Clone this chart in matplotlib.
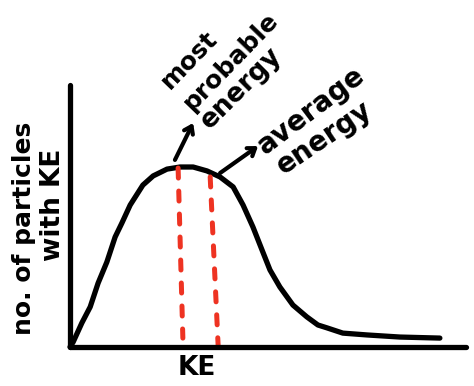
import matplotlib
matplotlib.use("Agg")
import matplotlib.pyplot as plt

# Curve (kinetic energy distribution)
ke = [0.0, 0.08, 0.30, 0.51, 0.71, 0.93, 1.14, 1.31, 1.52, 1.84, 2.10, 2.45,
      2.78, 3.11, 3.46, 3.79, 4.12, 4.37, 4.62, 4.85, 5.05, 5.30, 5.63, 5.98,
      6.26, 6.49, 6.89, 7.50, 8.33, 9.34]
count = [0.0, 0.019, 0.092, 0.153, 0.244, 0.324, 0.420, 0.473, 0.542, 0.618,
         0.653, 0.679, 0.687, 0.687, 0.672, 0.649, 0.611, 0.542, 0.458, 0.370,
         0.294, 0.229, 0.160, 0.115, 0.084, 0.073, 0.053, 0.046, 0.038, 0.034]

# Red dashed marker lines (top and bottom ends)
most_probable_x = [2.73, 2.85]
most_probable_y = [0.683, 0.034]
average_x = [3.54, 3.74]
average_y = [0.649, 0.008]

BLACK = "#000000"
RED = "#ee3322"

fig = plt.figure(figsize=(4.74, 3.86), dpi=100)
W, H = 474, 386
ax = fig.add_axes([70 / W, (H - 347) / H, 396 / W, 262 / H])
ax.set_xlim(0, 10)
ax.set_ylim(0, 1)
ax.set_xticks([])
ax.set_yticks([])
for s in ["top", "right"]:
    ax.spines[s].set_visible(False)
for s in ["left", "bottom"]:
    ax.spines[s].set_linewidth(3.8)
    ax.spines[s].set_color(BLACK)
    ax.spines[s].set_capstyle("round")

ax.plot(ke, count, color=BLACK, lw=3.8, solid_capstyle="round",
        solid_joinstyle="round", clip_on=False)

for xs, ys in [(most_probable_x, most_probable_y), (average_x, average_y)]:
    ax.plot(xs, ys, color=RED, lw=3.6, dashes=(2, 2.6),
            dash_capstyle="round", clip_on=False)

arrow = dict(arrowstyle="->,head_length=0.5,head_width=0.35", lw=3, color=BLACK,
             capstyle="round", joinstyle="round", shrinkA=0, shrinkB=0)
ax.annotate("", xy=(3.11, 0.855), xytext=(2.65, 0.714), arrowprops=arrow,
            annotation_clip=False)
ax.annotate("", xy=(4.75, 0.767), xytext=(3.79, 0.664), arrowprops=arrow,
            annotation_clip=False)

tk = dict(fontweight="bold", color=BLACK, ha="left",
          va="baseline", rotation_mode="anchor", clip_on=False)
ax.text(2.53, 0.981, "most", rotation=46, fontsize=18, **tk)
ax.text(3.08, 0.897, "probable", rotation=46, fontsize=18, **tk)
ax.text(3.52, 0.828, "energy", rotation=45, fontsize=19, **tk)
ax.text(4.92, 0.733, "average", rotation=37, fontsize=20, **tk)
ax.text(5.38, 0.656, "energy", rotation=34, fontsize=20, **tk)

fig.text(197 / W, 1 - 368 / H, "KE", fontsize=19, fontweight="bold",
         ha="center", va="center")
fig.text(24 / W, 1 - 228 / H, "no. of particles", fontsize=18,
         fontweight="bold", rotation=90, ha="center", va="center")
fig.text(53 / W, 1 - 205 / H, "with KE", fontsize=19,
         fontweight="bold", rotation=90, ha="center", va="center")

fig.savefig("out.png", dpi=100, facecolor="white")
